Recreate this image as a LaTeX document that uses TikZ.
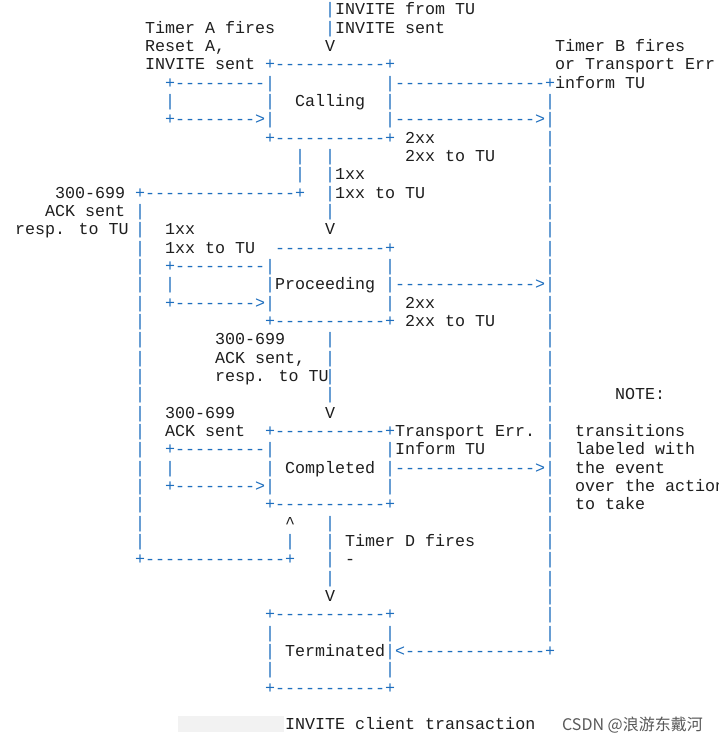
\documentclass[tikz,border=0pt]{standalone}
\usepackage{fontspec}
\newfontfamily\mono{Liberation Mono}
\newfontfamily\cjk{Noto Sans CJK SC}
\definecolor{artblue}{RGB}{30,110,190}
\definecolor{txt}{RGB}{30,30,30}
\tikzset{
  cell/.style={inner sep=0pt, anchor=base west, font=\mono\fontsize{16.67}{18}\selectfont},
  art/.style={cell, text=artblue},
  lbl/.style={cell, text=txt}
}
\newcommand\A[3]{\node[art] at ({15+10*#2},{731-18.333*#1}) {#3};}
\newcommand\T[3]{\node[lbl] at ({15+10*#2},{731-18.333*#1}) {#3};}
\begin{document}
\begin{tikzpicture}[x=1pt,y=1pt]
\useasboundingbox[fill=white] (0,0) rectangle (719,746);
\A{0}{31}{|}\T{0}{32}{INVITE from TU}
\T{1}{13}{Timer A fires}\A{1}{31}{|}\T{1}{32}{INVITE sent}
\T{2}{13}{Reset A,}\T{2}{31}{V}\T{2}{54}{Timer B fires}
\T{3}{13}{INVITE sent}\A{3}{25}{+-----------+}\T{3}{54}{or Transport Err.}
\A{4}{15}{+---------|}\A{4}{37}{|---------------+}\T{4}{54}{inform TU}
\A{5}{15}{|}\A{5}{25}{|}\T{5}{28}{Calling}\A{5}{37}{|}\A{5}{53}{|}
\A{6}{15}{+-------->|}\A{6}{37}{|-------------->|}
\A{7}{25}{+-----------+}\T{7}{39}{2xx}\A{7}{53}{|}
\A{8}{28}{|}\A{8}{31}{|}\T{8}{39}{2xx to TU}\A{8}{53}{|}
\A{9}{28}{|}\A{9}{31}{|}\T{9}{32}{1xx}\A{9}{53}{|}
\T{10}{4}{300-699}\A{10}{12}{+---------------+}\A{10}{31}{|}\T{10}{32}{1xx to TU}\A{10}{53}{|}
\T{11}{3}{ACK sent}\A{11}{12}{|}\A{11}{31}{|}\A{11}{53}{|}
\T{12}{0}{resp. to TU}\A{12}{12}{|}\T{12}{15}{1xx}\T{12}{31}{V}\A{12}{53}{|}
\A{13}{12}{|}\T{13}{15}{1xx to TU}\A{13}{26}{-----------+}\A{13}{53}{|}
\A{14}{12}{|}\A{14}{15}{+---------|}\A{14}{37}{|}\A{14}{53}{|}
\A{15}{12}{|}\A{15}{15}{|}\A{15}{25}{|}\T{15}{26}{Proceeding}\A{15}{37}{|-------------->|}
\A{16}{12}{|}\A{16}{15}{+-------->|}\A{16}{37}{|}\T{16}{39}{2xx}\A{16}{53}{|}
\A{17}{12}{|}\A{17}{25}{+-----------+}\T{17}{39}{2xx to TU}\A{17}{53}{|}
\A{18}{12}{|}\T{18}{20}{300-699}\A{18}{31}{|}\A{18}{53}{|}
\A{19}{12}{|}\T{19}{20}{ACK sent,}\A{19}{31}{|}\A{19}{53}{|}
\A{20}{12}{|}\T{20}{20}{resp. to TU}\A{20}{31}{|}\A{20}{53}{|}
\A{21}{12}{|}\A{21}{31}{|}\A{21}{53}{|}\T{21}{60}{NOTE:}
\A{22}{12}{|}\T{22}{15}{300-699}\T{22}{31}{V}\A{22}{53}{|}
\A{23}{12}{|}\T{23}{15}{ACK sent}\A{23}{25}{+-----------+}\T{23}{38}{Transport Err.}\A{23}{53}{|}\T{23}{56}{transitions}
\A{24}{12}{|}\A{24}{15}{+---------|}\A{24}{37}{|}\T{24}{38}{Inform TU}\A{24}{53}{|}\T{24}{56}{labeled with}
\A{25}{12}{|}\A{25}{15}{|}\A{25}{25}{|}\T{25}{27}{Completed}\A{25}{37}{|-------------->|}\T{25}{56}{the event}
\A{26}{12}{|}\A{26}{15}{+-------->|}\A{26}{37}{|}\A{26}{53}{|}\T{26}{56}{over the action}
\A{27}{12}{|}\A{27}{25}{+-----------+}\A{27}{53}{|}\T{27}{56}{to take}
\A{28}{12}{|}\T{28}{27}{\textasciicircum}\A{28}{31}{|}\A{28}{53}{|}
\A{29}{12}{|}\A{29}{27}{|}\A{29}{31}{|}\T{29}{33}{Timer D fires}\A{29}{53}{|}
\A{30}{12}{+--------------+}\A{30}{31}{|}\T{30}{33}{-}\A{30}{53}{|}
\A{31}{31}{|}\A{31}{53}{|}
\T{32}{31}{V}\A{32}{53}{|}
\A{33}{25}{+-----------+}\A{33}{53}{|}
\A{34}{25}{|}\A{34}{37}{|}\A{34}{53}{|}
\A{35}{25}{|}\T{35}{27}{Terminated}\A{35}{37}{|<--------------+}
\A{36}{25}{|}\A{36}{37}{|}
\A{37}{25}{+-----------+}
\fill[gray!10] (178,14) rectangle (284,30);
\T{39}{27}{INVITE client transaction}
\node[fill=white, inner sep=1pt, anchor=base east, text=gray!70!black, font=\cjk\fontsize{16}{18}\selectfont] (wm) at (704,15) {CSDN @浪游东戴河};
\end{tikzpicture}
\end{document}
